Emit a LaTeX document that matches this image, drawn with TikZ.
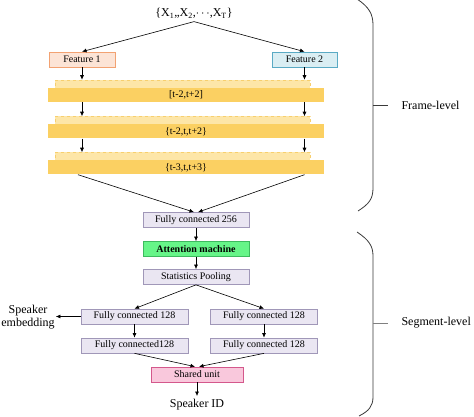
\documentclass[tikz,border=0pt]{standalone}
\usepackage{fontspec}
\setmainfont{Liberation Serif}
\usetikzlibrary{arrows.meta}
\definecolor{fOneFill}{HTML}{FCE4D6}
\definecolor{fOneDraw}{HTML}{F2A272}
\definecolor{fTwoFill}{HTML}{DAEEF3}
\definecolor{fTwoDraw}{HTML}{5AAAC4}
\definecolor{fcFill}{HTML}{EAE6F2}
\definecolor{fcDraw}{HTML}{A097B8}
\definecolor{attFill}{HTML}{66F588}
\definecolor{attDraw}{HTML}{3DBA5E}
\definecolor{shFill}{HTML}{F9C8DC}
\definecolor{shDraw}{HTML}{D4588C}
\definecolor{bandFill}{HTML}{FBD062}
\definecolor{backFill}{HTML}{FDE6A8}
\definecolor{backDraw}{HTML}{F7CF6E}
\definecolor{brc}{HTML}{3A3A3A}
\tikzset{
  box/.style={rectangle, draw, line width=0.7pt, minimum height=15pt, inner sep=0pt, font=\fontsize{10}{11}\selectfont},
  fbox/.style={box, fill=fcFill, draw=fcDraw, minimum width=106pt},
  band/.style={rectangle, fill=bandFill, minimum width=276pt, minimum height=14pt, inner sep=0pt, font=\fontsize{10}{11}\selectfont},
  backband/.style={rectangle, fill=backFill, draw=backDraw, dashed, line width=0.5pt, minimum width=255pt, minimum height=9pt, inner sep=0pt},
  arr/.style={-{Latex[length=4.5pt,width=4pt]}, line width=0.6pt, black},
  ln/.style={line width=0.6pt, black},
  brace/.style={line width=0.8pt, brc},
  big/.style={font=\fontsize{12}{13}\selectfont}
}
\begin{document}
\begin{tikzpicture}[x=1pt,y=-1pt]
\useasboundingbox (0,0) rectangle (474,417);
% title
\node[big] (in) at (194,13) {\{X\textsubscript{1},,X\textsubscript{2},$\cdots$,X\textsubscript{T}\}};
\node[box, fill=fOneFill, draw=fOneDraw, minimum width=66pt] (f1) at (82,59.5) {Feature 1};
\node[box, fill=fTwoFill, draw=fTwoDraw, minimum width=65pt] (f2) at (304.5,59.5) {Feature 2};
\draw[arr] (in.south) -- (f1.north);
\draw[arr] (in.south) -- (f2.north);
% bands
\node[backband] (b1) at (182.5,84.5) {};
\node[band] (l1) at (186,95) {[t-2,t+2]};
\node[backband] (b2) at (182.5,121) {};
\node[band] (l2) at (186,131.5) {\{t-2,t,t+2\}};
\node[backband] (b3) at (182.5,157) {};
\node[band] (l3) at (186,167.5) {\{t-3,t,t+3\}};
\draw[arr] (f1.south) -- (f1.south |- b1.north);
\draw[arr] (f2.south) -- (f2.south |- b1.north);
\draw[arr] (l1.south -| f1) -- (b2.north -| f1);
\draw[arr] (l1.south -| f2) -- (b2.north -| f2);
\draw[arr] (l2.south -| f1) -- (b3.north -| f1);
\draw[arr] (l2.south -| f2) -- (b3.north -| f2);
% segment part
\node[fbox] (fc) at (196,220) {Fully connected 256};
\node[box, fill=attFill, draw=attDraw, minimum width=106pt, font=\fontsize{10}{11}\selectfont\bfseries] (att) at (196,249) {Attention machine};
\node[fbox] (sp) at (196,277) {Statistics Pooling};
\draw[arr] ([xshift=-4pt]l3.south -| f1) -- ([xshift=-2pt]fc.north);
\draw[arr] (l3.south -| f2) -- ([xshift=2pt]fc.north);
\draw[arr] (fc) -- (att);
\draw[arr] (att) -- (sp);
\node[fbox, minimum width=107pt] (a1) at (134.5,316.5) {Fully connected 128};
\node[fbox, minimum width=107pt] (c1) at (264,316.5) {Fully connected 128};
\node[fbox, minimum width=107pt] (a2) at (134.5,345.5) {Fully connected128};
\node[fbox, minimum width=107pt] (c2) at (264,345.5) {Fully connected 128};
\draw[arr] (sp.south) -- (a1.north);
\draw[arr] (sp.south) -- (c1.north);
\draw[arr] (a1) -- (a2);
\draw[arr] (c1) -- (c2);
\node[box, fill=shFill, draw=shDraw, minimum width=92pt] (sh) at (197,374.5) {Shared unit};
\draw[arr] (a2.south) -- ([xshift=-2pt]sh.north);
\draw[arr] (c2.south) -- ([xshift=2pt]sh.north);
\node[big] (id) at (197,405) {Speaker ID};
\draw[arr] (sh) -- (id);
\node[big, align=center, inner sep=1pt] (emb) at (28,317) {Speaker\\embedding};
\draw[arr] (a1.west) -- (emb.east |- a1.west);
% braces
\draw[brace] (357,-1) .. controls (369,7) and (373,14) .. (373,25) -- (373,188) .. controls (373,199) and (369,204) .. (358,211);
\draw[line width=0.6pt, brc] (373,105) -- (388,105);
\node[big, anchor=west] (fl) at (398,105) {Frame-level};
\draw[brace] (357,232) .. controls (369,240) and (373,246) .. (373,256) -- (373,397) .. controls (373,406) and (369,411) .. (359,416);
\draw[line width=0.6pt, gray] (373,323) -- (388,323);
\node[big, anchor=west] (sl) at (398,323) {Segment-level};
\end{tikzpicture}
\end{document}
